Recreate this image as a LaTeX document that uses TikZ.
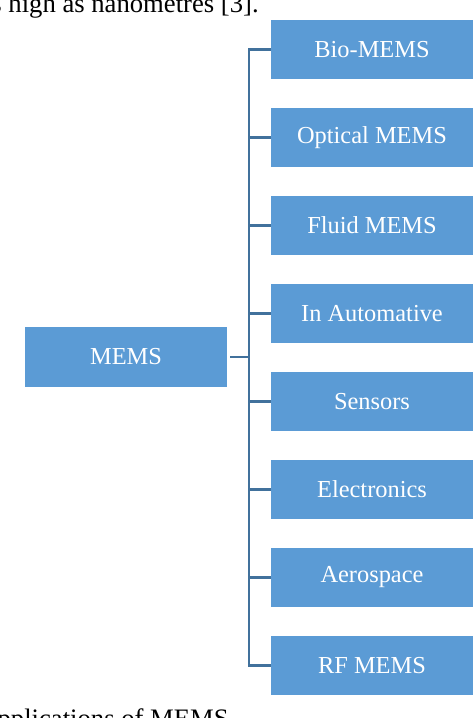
\documentclass[tikz,border=0pt]{standalone}
\usepackage{fontspec}
\setmainfont{Liberation Serif}
\definecolor{boxblue}{HTML}{5B9BD5}
\definecolor{linkblue}{HTML}{41719C}
\begin{document}
\begin{tikzpicture}[x=0.75pt,y=-0.75pt,
  box/.style={fill=boxblue,draw=none,text=white,minimum width=151.5pt,minimum height=44.25pt,inner sep=0pt,font=\fontsize{18.3}{20}\selectfont},
  link/.style={draw=linkblue,line width=2pt},
  caption/.style={inner sep=0pt,text=black,font=\fontsize{20}{22}\selectfont}]
\useasboundingbox (0,0) rectangle (474,718);
\clip (0,0) rectangle (474,718);
\node[caption,anchor=base east] (top) at (259,12) {s high as nanometres [3].};
\node[caption,anchor=base east] (bot) at (229,727) {pplications of MEMS};
\node[box,minimum height=45pt] (mems) at (126,357) {MEMS};
\foreach \i/\t in {1/Bio-MEMS,2/Optical MEMS,3/Fluid MEMS,4/In Automative,5/Sensors,6/Electronics,7/Aerospace,8/RF MEMS}{
  \node[box] (b\i) at (372,{49.5+88*(\i-1)}) {\t};
}
\coordinate (bus) at (249,357);
\draw[link] ([xshift=2.25pt]mems.east) -- (mems.east -| bus);
\draw[link] (b1.west) -- (b1.west -| bus) -- (b8.west -| bus) -- (b8.west);
\foreach \i in {2,...,7}{
  \draw[link] (b\i.west -| bus) -- (b\i.west);
}
\end{tikzpicture}
\end{document}
